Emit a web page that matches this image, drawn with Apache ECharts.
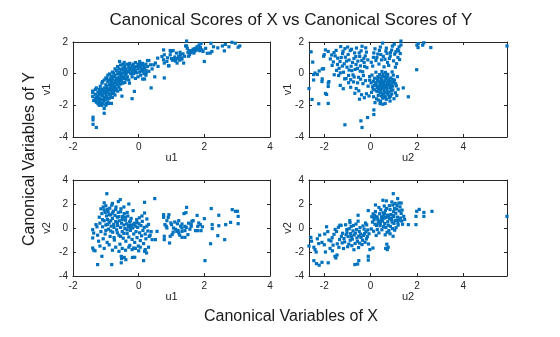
<!DOCTYPE html>
<html>
<head>
<meta charset="utf-8">
<script src="https://cdn.jsdelivr.net/npm/echarts@6/dist/echarts.min.js"></script>
<style>
  html, body { margin: 0; padding: 0; background: #fff; }
  #chart { width: 560px; height: 337px; }
</style>
</head>
<body>
<div id="chart"></div>
<script>
// Canonical scores: first pair of canonical variables (u1, v1)
const u1v1 = [
  [-1.39,-2.75],[-1.39,-2.92],[-1.39,-3.2],[-1.29,-3.4],[-1.05,-2.2],[-1.05,-2.5],
  [-1.40,-1.1],[-1.40,-1.2],[-1.40,-1.45],[-1.37,-1.7],[-1.32,-1.58],[-1.32,-1.69],[-1.32,-1.0],[-1.32,-1.3],
  [-1.29,-0.9],[-1.29,-1.8],[-1.29,-1.5],[-1.24,-1.17],[-1.24,-1.9],[-1.24,-1.4],[-1.24,-1.6],[-1.20,-1.0],
  [-1.20,-1.3],[-1.20,-1.75],[-1.20,-2.0],[-1.20,-1.55],[-1.17,-1.6],[-1.17,-0.8],[-1.17,-1.2],[-1.17,-1.9],
  [-1.12,-1.85],[-1.12,-0.6],[-1.12,-1.0],[-1.12,-1.4],[-1.12,-2.0],[-1.12,-1.65],[-1.10,-1.9],[-1.10,-1.1],
  [-1.10,-1.3],[-1.10,-0.5],[-1.05,-0.9],[-1.05,-1.5],[-1.05,-1.7],[-1.05,-1.2],[-1.05,-0.4],[-1.00,-0.27],
  [-1.00,-0.7],[-1.00,-1.0],[-1.00,-1.3],[-1.00,-1.6],[-1.00,-1.9],[-1.00,-2.0],[-1.00,-1.1],[-0.97,-1.9],
  [-0.97,-0.3],[-0.97,-0.8],[-0.97,-1.45],[-0.94,-0.5],[-0.94,-1.0],[-0.94,-1.2],[-0.94,-1.6],[-0.94,-1.8],
  [-0.94,-0.1],[-0.89,-0.02],[-0.89,-0.4],[-0.89,-0.7],[-0.89,-0.95],[-0.89,-1.3],[-0.89,-1.55],[-0.89,-1.88],
  [-0.85,-0.3],[-0.85,-0.6],[-0.85,-0.85],[-0.85,-1.1],[-0.85,-1.4],[-0.83,-1.88],[-0.83,-0.15],[-0.83,-0.5],
  [-0.80,0.1],[-0.80,-0.35],[-0.80,-0.75],[-0.80,-1.0],[-0.80,-1.25],[-0.80,-1.5],[-0.76,0.04],[-0.76,-0.2],
  [-0.76,-0.6],[-0.76,-0.9],[-0.76,-1.2],[-0.72,0.3],[-0.72,-0.1],[-0.72,-0.45],[-0.72,-0.8],[-0.72,-1.05],
  [-0.72,-1.35],[-0.68,0.2],[-0.68,-0.3],[-0.68,-0.6],[-0.68,-0.95],[-0.64,0.45],[-0.64,0.0],[-0.64,-0.4],
  [-0.64,-0.7],[-0.64,-1.1],[-0.60,0.3],[-0.60,-0.2],[-0.60,-0.5],[-0.60,-0.85],[-0.58,0.77],[-0.58,0.1],
  [-0.58,-0.3],[-0.55,0.55],[-0.55,0.0],[-0.55,-0.35],[-0.55,-0.65],[-0.55,-1.0],[-0.52,0.25],[-0.52,-0.15],
  [-0.52,-0.45],[-0.51,-1.42],[-0.48,0.6],[-0.48,0.35],[-0.48,0.05],[-0.48,-0.25],[-0.48,-0.6],[-0.44,0.71],
  [-0.44,0.4],[-0.44,0.1],[-0.44,-0.3],[-0.42,0.5],[-0.42,0.2],[-0.42,-0.1],[-0.42,-0.55],[-0.38,0.3],
  [-0.38,0.0],[-0.38,-0.35],[-0.34,0.6],[-0.34,0.15],[-0.34,-0.2],[-0.30,0.45],[-0.30,0.1],[-0.30,-0.4],
  [-0.28,-0.6],[-0.28,0.25],[-0.27,0.65],[-0.24,0.35],[-0.24,0.0],[-0.20,-1.58],[-0.20,0.5],[-0.20,0.15],
  [-0.20,-0.2],[-0.16,0.6],[-0.16,0.3],[-0.16,0.0],[-0.13,-1.12],[-0.13,0.4],[-0.13,0.1],[-0.10,0.7],
  [-0.10,0.2],[-0.10,-0.3],[-0.06,0.45],[-0.06,0.05],[-0.02,0.6],[-0.02,0.3],[-0.02,-0.2],[0.00,0.46],
  [0.03,0.77],[0.03,0.1],[0.06,0.4],[0.06,-0.1],[0.06,0.6],[0.08,0.56],[0.08,0.2],[0.12,-0.34],
  [0.12,0.3],[0.12,0.65],[0.13,0.15],[0.16,0.5],[0.16,0.0],[0.18,-0.34],[0.18,0.35],[0.22,0.6],
  [0.22,0.2],[0.22,-0.1],[0.23,0.04],[0.27,0.83],[0.27,0.45],[0.31,0.83],[0.31,0.15],[0.36,0.56],
  [0.38,-0.9],[0.41,0.3],[0.46,0.56],[0.49,-0.2],[0.51,0.67],[0.58,0.98],[0.59,0.46],
  [0.71,1.08],[0.76,1.50],[0.78,1.19],[0.76,0.88],[0.86,0.77],[0.91,0.50],[0.78,0.67],[0.92,0.50],
  [0.96,1.46],[0.96,1.19],[0.98,1.40],[1.00,0.95],[1.03,0.85],[1.05,1.46],[1.08,0.90],[1.10,1.05],
  [1.12,0.80],[1.15,1.30],[1.17,0.67],[1.20,0.95],[1.22,1.10],[1.25,0.85],[1.27,1.20],[1.30,1.00],
  [1.32,0.92],[1.35,1.25],[1.37,0.67],[1.40,1.10],[1.43,1.75],[1.46,2.06],[1.46,1.75],[1.48,1.60],
  [1.50,1.35],[1.53,1.46],[1.55,1.20],[1.58,1.33],[1.60,1.45],[1.63,1.40],[1.66,1.55],[1.70,1.40],
  [1.72,1.60],[1.75,1.48],[1.78,1.70],[1.80,1.55],[1.84,1.81],[1.86,1.45],[1.88,1.65],[1.90,1.90],
  [1.93,1.50],[1.96,1.40],[2.00,0.77],[2.04,1.60],[2.09,1.29],[2.18,1.30],[2.20,1.92],[2.23,1.40],
  [2.28,1.70],[2.41,1.63],[2.55,1.75],[2.61,1.44],[2.64,1.85],[2.75,1.70],[2.84,1.98],[2.94,1.92],
  [3.03,1.67],[3.08,1.75],[0.78,-0.27],[1.15,0.95],[1.26,1.35],[1.52,1.10],[1.68,1.30],[0.88,1.00]
];

// Second canonical variable of X against first of Y (u2, v1)
const u2v1 = [
  [-2.66,-0.94],[-2.57,1.38],[-2.53,-1.63],[-2.24,-1.90],[-1.83,-1.88],[-1.95,-1.25],[-1.90,-1.31],
  [-2.50,0.73],[-2.46,-0.06],[-2.40,0.04],[-2.46,-0.40],[-2.30,-0.05],[-2.22,0.17],[-2.09,-0.33],[-2.09,0.30],
  [-2.03,0.31],[-2.00,1.20],[-2.03,1.10],[-1.83,1.40],[-1.95,1.50],[-2.10,-0.50],[-1.83,-0.81],[-1.80,-0.50],
  [-1.83,-0.60],[-1.11,-3.23],[-0.42,-2.98],[-0.37,-3.40],[-0.13,-2.77],[0.14,-2.29],[0.14,-2.58],
  [1.63,-1.46],[1.99,0.25],[1.41,-0.90],[1.31,2.06],[2.00,1.80],[2.06,1.90],[2.30,1.95],[2.25,1.80],
  [2.05,1.65],[2.60,1.65],[5.89,1.75],
  [-1.74,0.93],[-1.21,1.27],[-0.63,0.58],[-1.47,0.21],[-0.88,1.46],[-0.34,0.12],[-1.58,1.33],[-1.02,0.41],
  [-0.47,1.09],[-1.32,0.77],[-0.76,-0.08],[-0.21,1.63],[-1.66,0.52],[-1.11,1.58],[-0.57,0.33],[-1.38,-0.12],
  [-0.93,0.86],[-0.28,0.71],[-1.53,1.12],[-0.69,1.31],[-1.17,0.09],[-0.41,1.44],[-0.84,0.47],[-1.27,1.02],
  [-0.52,-0.23],[-1.61,0.74],[-0.97,1.21],[-0.16,0.38],[-1.43,0.58],[-0.72,0.96],[-1.06,-0.31],[-0.38,0.84],
  [-1.29,1.71],[-0.81,0.19],[-0.23,1.12],[-1.49,1.47],[-0.61,1.62],[-1.14,0.62],[-0.44,0.49],[-0.99,1.68],
  [-0.31,-0.12],[-1.36,0.34],[-0.78,0.71],[-0.12,0.87],[-1.57,-0.07],[-0.67,0.27],[-1.09,1.04],[-0.49,1.31],
  [-0.86,-0.38],[-1.22,0.48],[-0.26,0.46],[-1.42,0.98],[-0.55,0.79],[-0.93,0.23],[-0.37,1.73],[-1.19,1.41],
  [-0.71,-0.21],[-0.18,1.36],[-1.04,0.79],[-0.64,1.08],[-1.31,0.05],[-0.45,0.16],[-0.82,1.54],[-1.68,1.18],
  [-0.95,-0.11],[-0.29,0.97],
  [-0.74,-0.52],[-0.51,-1.08],[-0.33,-0.63],[-0.62,-0.94],[-0.18,-1.27],[-0.43,-0.35],[-0.86,-0.86],[-0.27,-1.52],
  [-0.56,-0.58],[-0.11,-0.79],[-0.39,-1.33],[-0.68,-1.24],[-0.22,-0.44],[-0.48,-1.61],[-0.07,-1.41],[-0.95,-0.57],
  [-1.12,-0.33],[-1.31,-0.74],[-1.18,-0.95],[-0.04,-0.18],
  [0.41,-0.62],[0.53,-0.81],[0.47,-0.44],[0.62,-0.73],[0.35,-0.95],[0.71,-0.52],[0.58,-1.08],[0.29,-0.38],
  [0.66,-0.31],[0.44,-1.21],[0.83,-0.88],[0.51,-0.17],[0.22,-0.71],[0.77,-1.17],[0.39,-0.06],[0.92,-0.61],
  [0.61,-1.43],[0.18,-1.02],[0.87,-0.27],[0.33,-1.37],[0.74,-0.04],[0.57,-0.55],[0.48,-0.92],[0.96,-1.03],
  [0.12,-0.48],[0.69,-0.86],[0.26,-1.59],[1.03,-0.41],[0.81,-1.51],[0.43,-1.74],[0.64,0.08],[0.08,-0.83],
  [1.11,-0.77],[0.55,-1.27],[0.31,-0.19],[0.91,-1.29],[0.73,-0.67],[0.17,-0.29],[0.98,-0.09],[0.46,-0.33],
  [0.63,-1.88],[0.37,-1.15],[0.85,-0.47],[0.04,-1.18],[1.07,-1.21],[0.52,-1.55],[0.24,-0.57],[0.78,-0.38],
  [0.59,-0.21],[0.95,-0.79],[0.13,-1.46],[0.68,-1.62],[0.42,-0.79],[1.16,-0.19],[0.28,-0.87],[0.84,-1.73],
  [0.06,-0.09],[0.71,-1.02],[0.49,0.14],[1.01,-1.58],[0.36,-0.51],[0.88,-1.09],[0.19,-1.83],[0.56,-0.66],
  [0.75,-1.34],[0.93,0.11],[0.44,-1.01],[0.61,-0.45],[1.19,-0.98],[0.27,-1.11],[0.81,-0.71],[0.02,-0.58],
  [0.66,-1.21],[0.53,-1.93],[0.39,-0.27],[0.99,-0.54],[0.72,-0.18],[0.16,-0.73],[0.47,-1.41],[1.08,-0.63],
  [0.32,-0.78],[0.86,-1.42],[0.58,-0.89],[0.23,0.09],[0.77,-0.58],[0.64,-1.52],[0.41,-1.89],[1.13,-1.38],
  [0.96,-0.36],[0.11,-0.98],[0.54,-0.04],[0.34,-1.67],[0.69,-0.12],[0.89,-0.93],[-0.04,-0.41],[0.46,-0.61],
  [0.03,0.72],[0.14,1.31],[0.09,0.48],[0.27,1.02],[0.19,1.57],[0.36,0.61],[0.31,1.24],[0.47,0.87],
  [0.42,1.68],[0.58,0.43],[0.55,1.09],[0.66,1.42],[0.73,0.71],[0.68,1.61],[0.81,0.96],[0.86,1.33],
  [0.78,0.52],[0.94,1.74],[0.99,0.81],[1.04,1.23],[0.91,1.49],[1.12,0.63],[1.09,1.38],[1.18,1.02],
  [1.23,1.69],[1.16,1.52],[1.28,1.27],[1.02,1.86],[1.25,0.89],[1.31,1.81],[0.52,1.93],[0.23,0.83],
  [0.62,0.91],[0.44,1.21],[0.85,1.12],[1.07,0.41],[0.12,1.03],[0.38,1.47],[0.71,1.28],[1.21,1.44]
];

// First canonical variable of X against second of Y (u1, v2)
const u1v2 = [
  [-0.97,2.86],[-0.56,2.36],[0.49,2.45],[0.18,2.14],[0.18,1.25],[-1.25,-3.05],[-0.82,-3.05],[-0.53,-2.90],
  [-0.52,-2.55],[-1.12,-2.36],[-1.40,-1.67],[-1.37,-1.84],[-1.40,-0.14],[-1.40,-0.83],[-1.37,-0.42],[-1.30,0.28],
  [-1.27,0.10],[-0.44,-2.45],[-0.19,-2.45],[0.15,-2.72],[-0.15,-1.67],[0.00,-1.90],[-0.53,-2.36],[-0.39,-2.64],
  [-0.12,-2.44],[0.24,-2.08],[0.20,-1.80],[0.18,-1.94],[0.41,-0.97],[0.51,-0.97],[0.56,-0.28],[0.35,-0.60],
  [0.30,0.30],[0.25,0.75],[0.10,1.00],[-1.33,-1.90],
  [-1.20,0.90],[-1.18,0.40],[-1.15,-0.30],[-1.12,1.20],[-1.10,0.10],[-1.08,-0.90],[-1.05,1.50],[-1.05,0.60],
  [-1.02,-0.50],[-1.00,1.85],[-1.00,0.25],[-0.98,1.00],[-0.96,-1.20],[-0.95,0.70],[-0.93,1.35],[-0.92,-0.10],
  [-0.90,0.45],[-0.88,1.65],[-0.87,-0.70],[-0.85,1.10],[-0.84,0.15],[-0.82,1.90],[-0.80,0.80],[-0.79,-0.35],
  [-0.77,1.40],[-0.76,0.30],[-0.74,-1.00],[-0.72,1.05],[-0.70,0.55],[-0.69,1.75],[-0.67,-0.15],[-0.65,0.90],
  [-0.64,0.20],[-0.62,1.30],[-0.60,-0.60],[-0.59,0.60],[-0.57,-1.35],[-0.55,0.05],[-0.54,1.60],[-0.52,0.40],
  [-0.50,-0.30],[-0.49,0.95],[-0.47,-0.85],[-0.45,0.25],[-0.44,1.20],[-0.42,-0.05],[-0.40,0.65],[-0.39,-1.10],
  [-0.37,0.35],[-0.35,-0.45],[-0.33,1.00],[-0.32,0.10],[-0.30,-0.75],[-0.28,0.50],[-0.27,-1.45],[-0.25,-0.20],
  [-0.23,0.80],[-0.22,0.25],[-0.20,-0.95],[-0.18,0.00],[-0.17,1.45],[-0.15,-0.50],[-0.13,0.40],[-0.12,-1.20],
  [-0.10,0.15],[-0.08,-0.30],[-0.06,0.70],[-0.05,-0.80],[-0.03,0.05],[-0.01,-1.50],[0.01,0.35],[0.03,-0.40],
  [0.05,-1.05],[0.07,0.20],[0.09,-0.65],[0.11,0.55],[0.13,-0.20],[0.15,-1.30],[0.17,0.05],[0.20,-0.50],
  [0.22,-0.90],[0.25,0.15],[0.28,-0.25],[0.32,-0.70],[0.38,-0.30],
  [-1.15,1.60],[-1.08,1.75],[-1.02,1.30],[-0.95,1.55],[-0.90,1.10],[-0.85,0.60],[-0.80,1.25],[-0.75,0.05],
  [-0.70,1.55],[-0.65,0.45],[-0.60,0.95],[-0.55,1.35],[-0.50,0.70],[-0.45,1.75],[-0.40,0.90],[-0.35,1.30],
  [-0.30,0.20],[-0.25,0.60],[-0.95,0.30],[-1.00,-0.20],[-1.10,0.70],[-1.25,-0.60],[-1.22,-1.10],[-1.18,-1.50],
  [-1.05,-1.70],[-0.90,-1.40],[-0.80,-1.85],[-0.70,-1.60],[-0.60,-1.95],[-0.50,-1.70],[-0.40,-1.85],[-0.30,-1.60],
  [-0.20,-1.80],[-0.10,-1.70],[0.05,-1.60],[0.30,-1.60],[-0.75,-0.80],[-0.65,-0.40],[-0.55,-0.70],[-0.45,-0.45],
  [-0.35,-0.15],[-0.25,0.05],[-0.15,0.30],[-0.05,0.45],[0.02,0.85],[-0.85,-0.25],[-0.62,2.20],[-0.80,2.05],
  [-0.30,2.00],[-1.05,2.10],
  [0.76,1.11],[0.76,0.89],[0.92,1.11],[0.90,0.89],[0.86,0.61],[0.98,0.42],[0.84,0.14],[0.86,0.00],
  [1.00,0.28],[1.06,0.00],[1.12,-0.10],[1.16,-0.28],[1.22,-0.40],[1.20,-0.20],[1.02,-0.55],[0.96,-0.69],
  [0.94,-1.25],[0.78,-0.69],[0.78,-0.97],[0.80,0.28],[1.22,0.61],[1.38,1.20],
  [1.46,1.72],[1.44,1.28],[1.32,0.33],[1.32,0.00],[1.32,-0.28],[1.32,-0.78],[1.41,0.14],[1.41,-0.22],
  [1.41,-0.78],[1.50,-0.55],[1.60,0.14],[1.60,0.28],[1.62,0.56],[1.66,0.61],[1.73,-0.22],[1.80,-0.22],
  [1.80,0.14],[1.83,0.42],[1.88,0.28],[1.90,-0.22],[1.94,0.10],[1.78,1.05],[2.00,0.78],[1.52,0.40],
  [1.45,0.05],[1.56,-0.10],[1.28,0.15],[1.18,0.35],[1.10,0.50],[1.05,-0.35],[1.25,-0.60],
  [2.21,1.62],[2.24,0.28],[2.24,-0.05],[2.19,-1.31],[2.02,-2.72],[2.44,1.06],[2.44,0.19],[2.41,-0.64],
  [2.62,-0.97],[2.65,0.28],[2.80,0.47],[2.85,1.53],[2.95,1.39],[3.01,1.39],[3.03,0.97],[3.03,0.36]
];

// Second pair of canonical variables (u2, v2)
const u2v2 = [
  [0.98,2.86],[1.17,2.45],[1.32,2.08],[0.21,1.92],[-0.68,-3.05],[-0.56,-3.00],[-0.51,-2.72],[-0.10,-2.67],
  [-0.10,-2.36],[-2.22,-3.10],[-2.34,-2.97],[-2.10,-2.86],[-2.45,-2.72],[-1.83,-2.90],[-1.54,-2.36],[-1.50,-2.50],
  [-1.45,-2.25],[-2.66,-1.50],[-2.58,-0.78],[-2.55,-1.10],[-2.45,-1.60],[-2.40,-1.80],[-2.35,-2.00],[-2.24,-1.30],
  [-2.10,-1.20],[-2.00,-1.40],[-2.20,-0.60],[-2.30,-0.90],[-1.98,-0.50],[-1.90,0.10],[-1.85,-0.30],[-1.80,-1.00],
  [-1.75,-1.70],[-1.65,-1.90],[-1.95,-2.00],
  [1.96,0.28],[1.96,0.97],[1.99,1.39],[2.10,1.55],[2.30,1.30],[2.30,0.97],[2.65,1.39],[1.63,0.28],[5.89,0.97],
  [-0.03,-1.80],[0.10,-1.67],[0.70,-1.35],[0.72,-1.80],[0.76,-1.60],[0.65,-1.70],[0.97,-0.69],[-0.10,1.45],
  [-0.54,1.06],[-0.90,0.61],[-1.33,0.22],[-1.28,0.22],
  [-1.21,-0.44],[-0.57,-1.12],[-1.66,-0.81],[-0.33,0.17],[-0.92,-0.06],[-1.44,-1.32],[-0.71,-0.58],[-0.18,-0.91],
  [-1.08,0.27],[-0.49,-0.29],[-1.53,-0.12],[-0.81,-1.47],[-0.26,-0.47],[-1.34,-0.96],[-0.63,0.33],[-0.97,-0.71],
  [-0.12,-0.16],[-1.71,-1.08],[-0.41,-0.78],[-1.17,-1.71],[-0.76,-0.24],[-0.52,-1.63],[-1.39,0.06],[-0.09,-1.33],
  [-0.88,-1.02],[-0.31,-0.62],[-1.02,-0.39],[-0.67,-1.29],[-1.58,-0.53],[-0.22,0.41],[-0.84,0.12],[-1.26,-0.69],
  [-0.46,0.03],[-0.14,-0.72],[-1.12,-1.16],[-0.59,-0.83],[-0.94,-1.34],[-0.37,-1.38],[-1.47,-0.29],[-0.72,-1.81],
  [-0.28,-0.09],[-1.03,-0.13],[-0.54,0.57],[-0.79,-0.93],[-1.29,0.21],[-0.17,0.26],[-0.66,-0.43],[-0.99,-1.56],
  [-0.43,-0.51],[-1.62,-1.43],[-0.86,-0.47],[-0.07,-0.48],[-1.15,-0.88],[-0.35,-1.02],[-0.61,-0.13],[-1.37,-1.61],
  [-0.24,-1.19],[-0.89,0.44],[-0.48,-1.26],[-1.06,-0.57],[-0.74,0.21],[-0.20,-0.31],[-1.23,-1.24],[-0.51,-0.67],
  [-0.83,-0.72],
  [0.42,0.38],[0.87,1.12],[0.13,-0.27],[1.21,0.66],[0.64,1.47],[0.31,0.72],[1.04,-0.18],[0.56,0.11],
  [0.93,0.49],[0.18,1.06],[1.32,1.21],[0.71,-0.36],[0.47,0.94],[1.12,1.58],[0.26,0.21],[0.82,0.76],
  [0.59,1.83],[1.38,0.31],[0.08,0.49],[0.99,1.36],[0.36,-0.41],[0.76,0.23],[1.16,0.91],[0.52,0.58],
  [0.21,1.37],[1.27,1.76],[0.67,0.87],[0.94,-0.05],[0.39,1.19],[1.07,0.63],[0.03,-0.08],[0.61,0.37],
  [1.43,0.97],[0.84,1.53],[0.28,0.93],[0.73,1.07],[1.19,0.24],[0.49,-0.14],[0.96,1.91],[0.15,0.68],
  [1.34,0.58],[0.66,0.04],[0.89,0.81],[0.44,1.52],[1.09,1.23],[0.33,0.43],[0.79,-0.22],[1.24,1.43],
  [0.58,0.82],[0.05,0.94],[1.01,0.38],[0.69,1.63],[0.24,-0.62],[0.86,0.14],[1.14,1.87],[0.41,0.19],
  [0.97,1.03],[0.54,1.27],[1.29,0.83],[0.19,0.31],[0.74,0.52],[1.06,2.05],[0.36,1.71],[0.63,-0.57],
  [1.36,1.49],[0.91,0.67],[0.48,0.71],[0.11,1.18],[0.81,1.86],[1.18,0.44],[0.57,1.04],[0.29,-0.13],
  [1.03,1.62],[0.77,0.97],[1.47,0.71],[0.38,0.57],[0.92,2.17],[0.68,2.26],[1.22,2.08],[0.53,2.31],
  [0.84,-0.48],[1.10,0.03],[0.16,0.84],[0.60,1.20],[1.00,0.95]
];

// Axis ranges and tick labels
const u1Range = [-2, 4];
const u2Range = [-2.66, 5.89];
const v1Range = [-4, 2];
const v2Range = [-4, 4];
const u1Ticks = [-2, 0, 2, 4];
const u2Ticks = [-2, 0, 2, 4];
const vTicks = [-4, -2, 0, 2, 4];

const ink = '#262626';
const face = 'Liberation Sans, Arial, Helvetica, sans-serif';
const dotColor = '#0072BD';

// Panel layout: [left, top, width, height]
const panels = [
  { box: [73, 42, 197, 95],  x: u1Range, xt: u1Ticks, y: v1Range, data: u1v1, xl: 'u1', yl: 'v1' },
  { box: [309, 42, 198, 95], x: u2Range, xt: u2Ticks, y: v1Range, data: u2v1, xl: 'u2', yl: 'v1' },
  { box: [73, 180, 197, 96], x: u1Range, xt: u1Ticks, y: v2Range, data: u1v2, xl: 'u1', yl: 'v2' },
  { box: [309, 180, 198, 96], x: u2Range, xt: u2Ticks, y: v2Range, data: u2v2, xl: 'u2', yl: 'v2' }
];

const grid = [], xAxis = [], yAxis = [], series = [], graphic = [];

function tickVals(range, ticks) {
  return ticks.filter(t => t >= range[0] - 1e-9 && t <= range[1] + 1e-9);
}

panels.forEach((p, i) => {
  const [l, t, w, h] = p.box;
  grid.push({ left: l, top: t, width: w, height: h, containLabel: false });
  const xv = tickVals(p.x, p.xt);
  const yv = tickVals(p.y, vTicks);
  const common = {
    gridIndex: i,
    splitLine: { show: false },
    axisLine: { show: true, onZero: false, lineStyle: { color: ink, width: 1 } },
    axisTick: { show: true, inside: true, length: 3, lineStyle: { color: ink } }
  };
  // bottom x axis with labels
  xAxis.push(Object.assign({}, common, {
    type: 'value', position: 'bottom', min: p.x[0], max: p.x[1],
    axisTick: Object.assign({}, common.axisTick, { customValues: xv }),
    axisLabel: { customValues: xv, color: ink, fontFamily: face, fontSize: 10, margin: 5 }
  }));
  // left y axis with labels
  yAxis.push(Object.assign({}, common, {
    type: 'value', position: 'left', min: p.y[0], max: p.y[1],
    axisTick: Object.assign({}, common.axisTick, { customValues: yv }),
    axisLabel: { customValues: yv, color: ink, fontFamily: face, fontSize: 10, margin: 5 }
  }));
  series.push({
    type: 'scatter', xAxisIndex: i, yAxisIndex: i, data: p.data,
    symbol: 'rect', symbolSize: 3.2, clip: false, silent: true,
    itemStyle: { color: dotColor, opacity: 1 }
  });
  // axis titles
  graphic.push({
    type: 'text', x: l + w / 2, y: t + h + 21,
    style: { text: p.xl, font: '11px ' + face, fill: ink, align: 'center', verticalAlign: 'middle' }
  });
  graphic.push({
    type: 'text', x: (i % 2 === 0) ? 47 : 288, y: t + h / 2, rotation: Math.PI / 2,
    style: { text: p.yl, font: '11px ' + face, fill: ink, align: 'center', verticalAlign: 'middle' }
  });
});

// mirrored top / right axes closing each box
panels.forEach((p, i) => {
  const xv = tickVals(p.x, p.xt);
  const yv = tickVals(p.y, vTicks);
  xAxis.push({
    type: 'value', gridIndex: i, position: 'top', min: p.x[0], max: p.x[1],
    splitLine: { show: false }, axisLabel: { show: false },
    axisLine: { show: true, onZero: false, lineStyle: { color: ink, width: 1 } },
    axisTick: { show: true, inside: true, length: 3, customValues: xv, lineStyle: { color: ink } }
  });
  yAxis.push({
    type: 'value', gridIndex: i, position: 'right', min: p.y[0], max: p.y[1],
    splitLine: { show: false }, axisLabel: { show: false },
    axisLine: { show: true, onZero: false, lineStyle: { color: ink, width: 1 } },
    axisTick: { show: true, inside: true, length: 3, customValues: yv, lineStyle: { color: ink } }
  });
});

graphic.push({
  type: 'text', x: 291, y: 20,
  style: { text: 'Canonical Scores of X vs Canonical Scores of Y', font: '17px ' + face, fill: '#1a1a1a', align: 'center', verticalAlign: 'middle' }
});
graphic.push({
  type: 'text', x: 291, y: 317,
  style: { text: 'Canonical Variables of X', font: '16px ' + face, fill: '#1a1a1a', align: 'center', verticalAlign: 'middle' }
});
graphic.push({
  type: 'text', x: 30, y: 159, rotation: Math.PI / 2,
  style: { text: 'Canonical Variables of Y', font: '16px ' + face, fill: '#1a1a1a', align: 'center', verticalAlign: 'middle' }
});

const chart = echarts.init(document.getElementById('chart'), null, { renderer: 'canvas' });
chart.setOption({
  backgroundColor: '#ffffff',
  animation: false,
  grid, xAxis, yAxis, series, graphic
});
</script>
</body>
</html>
